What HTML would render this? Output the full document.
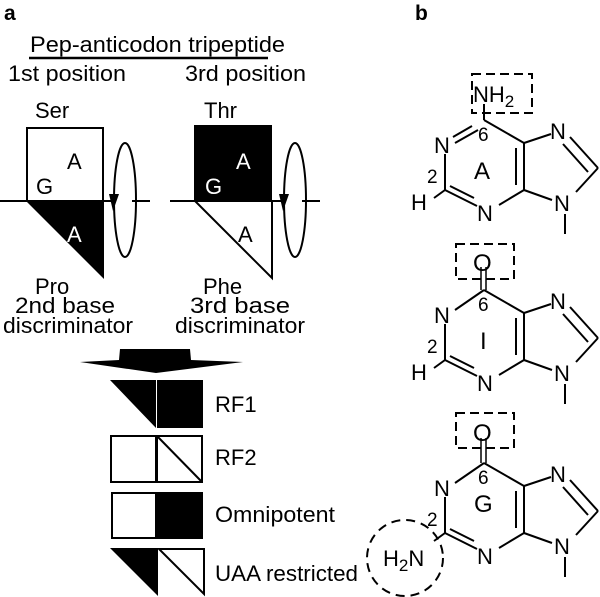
<!DOCTYPE html>
<html><head><style>body{margin:0;background:#fff}svg{display:block}text{font-family:"Liberation Sans",Arial,sans-serif}</style></head>
<body>
<svg width="600" height="597" viewBox="0 0 600 597" xmlns="http://www.w3.org/2000/svg">
<defs>
<g id="ring" stroke="#000" stroke-width="2" fill="none">
 <line x1="484" y1="120" x2="524" y2="143"/>
 <line x1="524" y1="143" x2="524" y2="190"/>
 <line x1="516" y1="148" x2="516" y2="185"/>
 <line x1="524" y1="190" x2="499" y2="205"/>
 <line x1="477" y1="206" x2="445" y2="190"/>
 <line x1="474" y1="198" x2="450" y2="186"/>
 <line x1="445" y1="190" x2="445" y2="154"/>
 <line x1="445" y1="190" x2="434" y2="198"/>
 <line x1="524" y1="143" x2="551" y2="134"/>
 <line x1="570" y1="137" x2="598" y2="168"/>
 <line x1="563" y1="144" x2="588" y2="172"/>
 <line x1="598" y1="168" x2="576" y2="192"/>
 <line x1="524" y1="190" x2="552" y2="200"/>
 <line x1="565" y1="214" x2="565" y2="234"/>
</g>
<g id="lbl" font-size="22" fill="#000">
 <text x="434" y="153">N</text>
 <text x="477" y="221">N</text>
 <text x="550" y="139">N</text>
 <text x="554" y="211">N</text>
 <text x="411" y="210">H</text>
 <text x="427" y="183" font-size="19">2</text>
 <text x="478" y="141" font-size="19">6</text>
</g>
</defs>

<text x="4" y="20" font-size="21" font-weight="bold">a</text>
<text x="415" y="20" font-size="21" font-weight="bold">b</text>
<text x="30" y="52" font-size="22" textLength="255" lengthAdjust="spacingAndGlyphs">Pep-anticodon tripeptide</text>
<line x1="29" y1="58" x2="268" y2="58" stroke="#000" stroke-width="2.5"/>
<text x="8" y="81" font-size="22" textLength="118" lengthAdjust="spacingAndGlyphs">1st position</text>
<text x="185" y="81" font-size="22" textLength="121" lengthAdjust="spacingAndGlyphs">3rd position</text>

<line x1="0" y1="201" x2="112" y2="201" stroke="#000" stroke-width="2"/>
<line x1="132" y1="201" x2="150" y2="201" stroke="#000" stroke-width="2"/>
<rect x="27" y="128" width="76" height="73" fill="#fff" stroke="#000" stroke-width="2"/>
<polygon points="26,201 104,201 104,279" fill="#000"/>
<ellipse cx="125" cy="200" rx="11" ry="57" fill="none" stroke="#000" stroke-width="2"/>
<polygon points="109,194 119,194 113,211" fill="#000"/>
<text x="35" y="118" font-size="22">Ser</text>
<text x="67" y="169" font-size="22">A</text>
<text x="36" y="194" font-size="22">G</text>
<text x="67" y="242" font-size="22" fill="#fff">A</text>
<text x="35" y="294" font-size="22">Pro</text>
<text x="65" y="313" font-size="22" text-anchor="middle" textLength="100" lengthAdjust="spacingAndGlyphs">2nd base</text>
<text x="68" y="333" font-size="22" text-anchor="middle" textLength="130" lengthAdjust="spacingAndGlyphs">discriminator</text>

<line x1="170" y1="201" x2="282" y2="201" stroke="#000" stroke-width="2"/>
<line x1="302" y1="201" x2="320" y2="201" stroke="#000" stroke-width="2"/>
<rect x="194" y="125" width="78" height="76" fill="#000"/>
<polygon points="195,201 272,201 272,278" fill="#fff" stroke="#000" stroke-width="2"/>
<ellipse cx="295" cy="200" rx="11" ry="57" fill="none" stroke="#000" stroke-width="2"/>
<polygon points="279,194 289,194 283,211" fill="#000"/>
<text x="204" y="118" font-size="22">Thr</text>
<text x="236" y="169" font-size="22" fill="#fff">A</text>
<text x="205" y="194" font-size="22" fill="#fff">G</text>
<text x="238" y="242" font-size="22">A</text>
<text x="203" y="294" font-size="22">Phe</text>
<text x="240" y="313" font-size="22" text-anchor="middle" textLength="100" lengthAdjust="spacingAndGlyphs">3rd base</text>
<text x="240" y="333" font-size="22" text-anchor="middle" textLength="130" lengthAdjust="spacingAndGlyphs">discriminator</text>

<polygon points="120,349 190,349 191,360 243,362 156,373 80,362 119,360" fill="#000"/>

<polygon points="110,380 156,380 156,428" fill="#000"/>
<rect x="157" y="380" width="46" height="48" fill="#000"/>
<text x="215" y="412" font-size="22">RF1</text>
<rect x="111" y="436" width="45" height="46" fill="none" stroke="#000" stroke-width="2"/>
<rect x="157" y="436" width="45" height="46" fill="none" stroke="#000" stroke-width="2"/>
<line x1="157" y1="436" x2="202" y2="482" stroke="#000" stroke-width="2"/>
<text x="215" y="465" font-size="22">RF2</text>
<rect x="112" y="493" width="44" height="45" fill="none" stroke="#000" stroke-width="2"/>
<rect x="156" y="492" width="47" height="47" fill="#000"/>
<text x="215" y="522" font-size="22" textLength="120" lengthAdjust="spacingAndGlyphs">Omnipotent</text>
<polygon points="110,548 158,548 158,596" fill="#000"/>
<polygon points="159,549 204,549 204,594" fill="none" stroke="#000" stroke-width="2"/>
<text x="215" y="581" font-size="22" textLength="143" lengthAdjust="spacingAndGlyphs">UAA restricted</text>

<use href="#ring"/>
<line x1="453" y1="137" x2="472" y2="126" stroke="#000" stroke-width="2"/>
<line x1="455" y1="143" x2="478" y2="130" stroke="#000" stroke-width="2"/>
<line x1="484" y1="120" x2="484" y2="104" stroke="#000" stroke-width="2"/>
<use href="#lbl"/>
<rect x="472" y="74" width="60" height="39" fill="none" stroke="#000" stroke-width="2" stroke-dasharray="9,5"/>
<text x="473" y="102" font-size="22">NH<tspan font-size="17" dy="5">2</tspan></text>
<text x="474" y="179" font-size="24">A</text>

<g transform="translate(0,170)">
<use href="#ring"/>
<line x1="455" y1="140" x2="484" y2="120" stroke="#000" stroke-width="2"/>
<line x1="481" y1="120" x2="481" y2="97" stroke="#000" stroke-width="1.5"/>
<line x1="486" y1="120" x2="486" y2="97" stroke="#000" stroke-width="1.5"/>
<use href="#lbl"/>
<rect x="456" y="74" width="58" height="35" fill="none" stroke="#000" stroke-width="2" stroke-dasharray="9,5"/>
<text x="473" y="101" font-size="24">O</text>
<text x="480" y="179" font-size="24">I</text>
</g>

<g transform="translate(0,343)">
<use href="#ring"/>
<line x1="455" y1="140" x2="484" y2="120" stroke="#000" stroke-width="2"/>
<line x1="481" y1="120" x2="481" y2="95" stroke="#000" stroke-width="1.5"/>
<line x1="486" y1="120" x2="486" y2="95" stroke="#000" stroke-width="1.5"/>
<g font-size="22">
 <text x="434" y="153">N</text>
 <text x="477" y="221">N</text>
 <text x="550" y="139">N</text>
 <text x="554" y="211">N</text>
 <text x="427" y="183" font-size="19">2</text>
 <text x="478" y="141" font-size="19">6</text>
</g>
<rect x="456" y="70" width="58" height="35" fill="none" stroke="#000" stroke-width="2" stroke-dasharray="9,5"/>
<text x="473" y="98" font-size="24">O</text>
<text x="474" y="169" font-size="24">G</text>
<circle cx="405" cy="215" r="38" fill="none" stroke="#000" stroke-width="2" stroke-dasharray="9,6"/>
<text x="383" y="223" font-size="22">H<tspan font-size="17" dy="5">2</tspan><tspan dy="-5">N</tspan></text>
</g>
</svg>
</body></html>
